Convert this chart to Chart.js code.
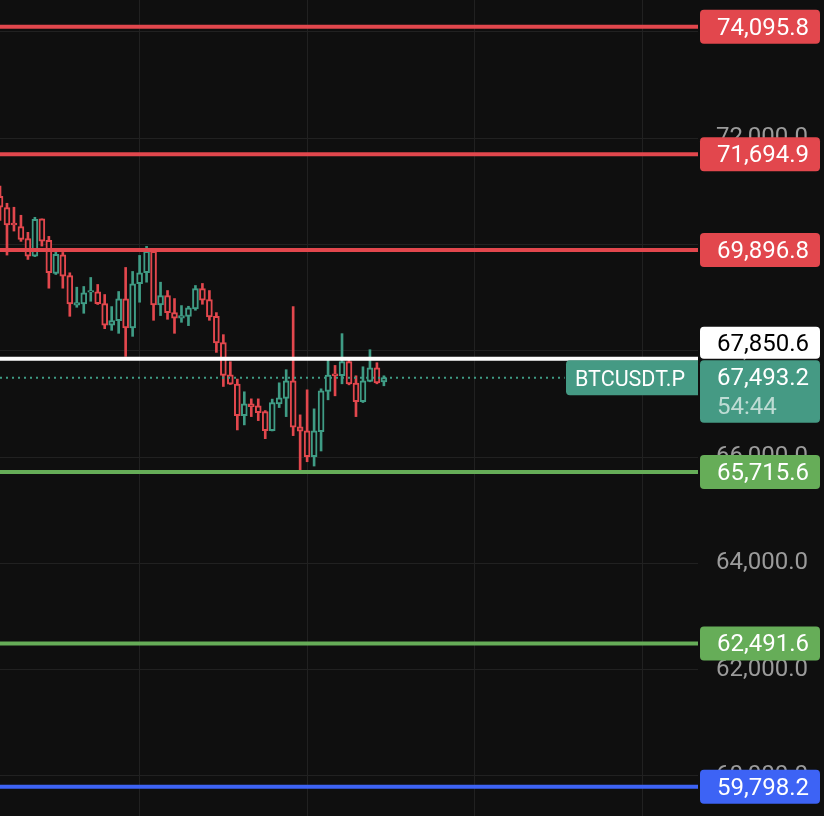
<!DOCTYPE html>
<html>
<head>
<meta charset="utf-8">
<script src="https://cdn.jsdelivr.net/npm/chart.js@4.4.1/dist/chart.umd.min.js"></script>
<style>
  html, body { margin: 0; padding: 0; background: #0f0f0f; }
  #wrap { width: 824px; height: 816px; }
</style>
</head>
<body>
<div id="wrap"><canvas id="chart" width="824" height="816"></canvas></div>
<script>
// hourly candles
const opens  = [70906,70693,70402,70334,70108,69780,70480,70076,69453,69806,69415,68855,68881,69100,69108,68887,68478,68566,68976,68429,69259,69466,69868,68863,69038,68717,68610,68647,68787,69170,68963,68647,68151,67547,67372,66779,67000,66962,66855,66496,67000,67104,67434,66566,66491,66006,66477,67232,67566,67528,67793,67391,67043,67421,67679,67415];
const highs  = [71095,70774,70699,70548,70227,70510,70480,70151,69882,69849,69466,69195,69208,69378,69246,69057,68830,69114,69566,69491,69793,69963,69906,69289,69132,68981,68849,68836,69227,69265,69132,68717,68302,67793,67466,67227,67094,67094,66874,67089,67396,67642,68830,66793,67264,66906,67283,67830,67723,68321,67849,67528,67698,68019,67774,67528];
const lows   = [70453,69799,70251,70057,69717,69770,69968,69176,69434,69176,68647,68817,68704,68930,68870,68415,68383,68327,67893,68270,68912,69289,68572,68661,68591,68327,68534,68472,68761,68874,68572,67968,67327,67365,66509,66604,66760,66685,66345,66490,66930,66760,66402,65716,65911,65830,66113,67076,67151,67377,67358,66760,67025,67415,67377,67340];
const closes = [70699,70365,70365,70095,69780,70472,70063,69466,69812,69402,68881,68906,69089,69132,68885,68478,68566,68976,68429,69259,69466,69868,68863,69038,68717,68610,68661,68806,69170,68949,68636,68145,67534,67372,66779,67000,66949,66836,66496,67025,67113,67434,66560,66485,66006,66491,67245,67542,67528,67793,67377,67043,67434,67679,67396,67493.2];

// horizontal levels drawn on the chart
const levelValues = [74095.8, 71694.9, 69896.8, 67850.6, 65715.6, 62491.6, 59798.2];
const levelColors = ['#e2474d', '#e2474d', '#e2474d', '#ffffff', '#66ad58', '#66ad58', '#3d63f5'];
const levelTextColors = ['#ffffff', '#ffffff', '#ffffff', '#000000', '#ffffff', '#ffffff', '#ffffff'];

const symbol = 'BTCUSDT.P';
const lastPrice = 67493.2;
const countdown = '54:44';

const yTicks = [60000, 62000, 64000, 66000, 68000, 70000, 72000, 74000];
const xGridTicks = [20, 44, 68, 92];

const upColor = '#3f9c85';
const downColor = '#e2474d';
const bgColor = '#0f0f0f';
const gridColor = '#212121';

const idx = opens.map((_, i) => i);
const candleColors = idx.map(i => closes[i] >= opens[i] ? upColor : downColor);

const fmt = v => v.toLocaleString('en-US', { minimumFractionDigits: 1, maximumFractionDigits: 1 });

// price labels on the right side
const priceLabels = {
  id: 'priceLabels',
  afterDraw(chart) {
    const ctx = chart.ctx;
    const ys = chart.scales.y;
    const right = chart.chartArea.right;
    const boxX = right + 2, boxW = 120, boxH = 34;
    const py = ys.getPixelForValue(lastPrice);
    const pTop = py - 17.5, pBottom = py + 45;
    ctx.save();
    ctx.font = '24px Roboto';
    ctx.textAlign = 'left';
    ctx.textBaseline = 'alphabetic';
    levelValues.forEach((v, i) => {
      const cy = ys.getPixelForValue(v);
      let top = cy - boxH / 2;
      let h = boxH;
      if (top + h > pTop && top < pBottom) {
        h = 32;
        top = pTop - h - 1.5;
      }
      ctx.fillStyle = levelColors[i];
      ctx.beginPath();
      ctx.roundRect(boxX, top, boxW, h, 4);
      ctx.fill();
      ctx.fillStyle = levelTextColors[i];
      ctx.fillText(fmt(v), right + 19, top + h / 2 + 8);
    });

    // last price box
    ctx.fillStyle = '#459a84';
    ctx.beginPath();
    ctx.roundRect(boxX, pTop, boxW, pBottom - pTop, 4);
    ctx.fill();
    ctx.fillStyle = '#ffffff';
    ctx.fillText(fmt(lastPrice), right + 19, py + 7.5);
    ctx.fillStyle = 'rgba(255,255,255,0.65)';
    ctx.fillText(countdown, right + 19, py + 36.5);

    // symbol tag
    ctx.fillStyle = '#459a84';
    ctx.beginPath();
    ctx.roundRect(right - 132, pTop, 132, 35, [4, 0, 0, 4]);
    ctx.fill();
    ctx.fillStyle = '#ffffff';
    ctx.font = '21.5px Roboto';
    ctx.fillText(symbol, right - 123, py + 8.5);
    ctx.restore();
  }
};

const levelSets = levelValues.map((v, i) => ({
  type: 'line',
  data: [{ x: 0, y: v }, { x: 100, y: v }],
  borderColor: levelColors[i],
  borderWidth: 4,
  pointRadius: 0,
  order: 0
}));

new Chart(document.getElementById('chart'), {
  type: 'bar',
  data: {
    datasets: [
      ...levelSets,
      {
        type: 'line',
        data: [{ x: 0, y: lastPrice }, { x: 80.9, y: lastPrice }],
        borderColor: upColor,
        borderWidth: 2,
        borderDash: [2, 4],
        pointRadius: 0,
        order: 0
      },
      {
        // bodies
        data: idx.map(i => ({ x: i, y: [opens[i], closes[i]] })),
        backgroundColor: bgColor,
        borderColor: candleColors,
        borderWidth: 2,
        borderSkipped: false,
        barThickness: 6,
        grouped: false,
        order: 1
      },
      {
        // wicks
        data: idx.map(i => ({ x: i, y: [lows[i], highs[i]] })),
        backgroundColor: candleColors,
        borderWidth: 0,
        barThickness: 2,
        grouped: false,
        order: 2
      }
    ]
  },
  options: {
    responsive: false,
    animation: false,
    layout: { padding: 0 },
    plugins: {
      legend: { display: false },
      tooltip: { enabled: false }
    },
    scales: {
      x: {
        type: 'linear',
        min: 0,
        max: 100,
        offset: false,
        grid: { color: gridColor, drawTicks: false, offset: false },
        border: { display: false },
        ticks: { display: false },
        afterBuildTicks: s => { s.ticks = xGridTicks.map(v => ({ value: v })); },
        afterFit: s => { s.height = 0; s.paddingLeft = 0; s.paddingRight = 0; }
      },
      y: {
        position: 'right',
        min: 59246,
        max: 74598,
        grid: { color: gridColor, drawTicks: false },
        border: { display: false },
        ticks: {
          color: '#9b9b9b',
          font: { family: 'Roboto', size: 24 },
          padding: 18,
          callback: v => fmt(v)
        },
        afterBuildTicks: s => { s.ticks = yTicks.map(v => ({ value: v })); },
        afterFit: s => { s.width = 126; s.paddingTop = 0; s.paddingBottom = 0; }
      }
    }
  },
  plugins: [priceLabels]
});
</script>
</body>
</html>
